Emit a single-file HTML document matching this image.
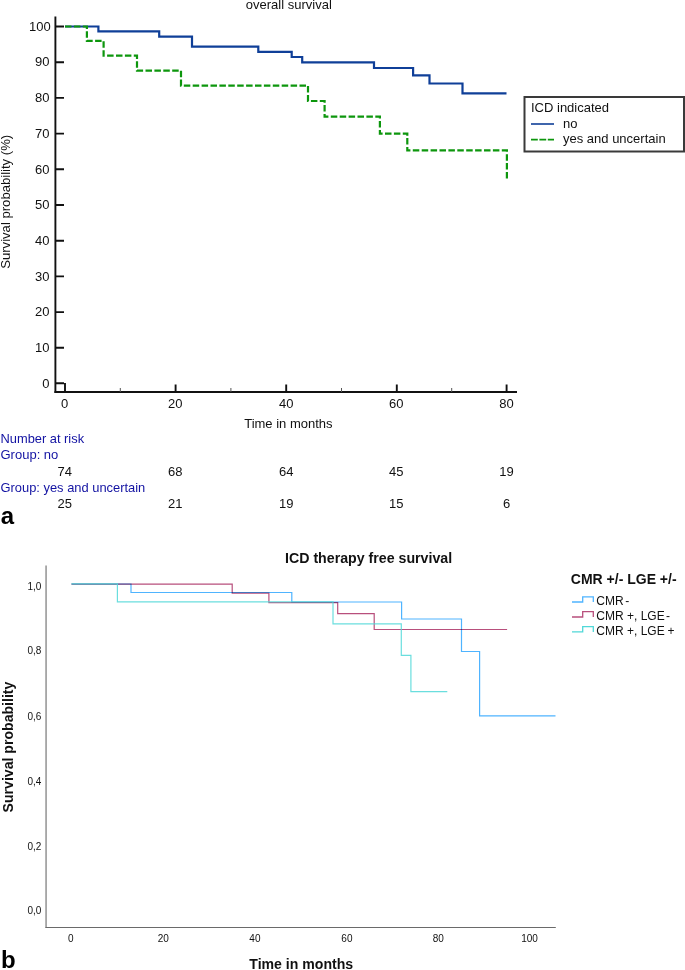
<!DOCTYPE html>
<html><head><meta charset="utf-8"><title>Kaplan-Meier survival curves</title>
<style>
html,body{margin:0;padding:0;background:#fff;}
body{width:685px;height:970px;overflow:hidden;}
svg{display:block;}
text{font-family:"Liberation Sans",Arial,sans-serif;fill:#111;}
.t13{font-size:13px;}
.t12{font-size:12px;}
.t10{font-size:10px;fill:#222;}
.b14{font-size:14.1px;font-weight:bold;fill:#111;}
.blue{fill:#1212a2;}
.pl{font-size:24px;font-weight:bold;fill:#000;}
</style></head>
<body>
<svg width="685" height="970" viewBox="0 0 685 970">
<rect width="685" height="970" fill="#fff"/>

<!-- ===== Panel A ===== -->
<text class="t13" x="245.8" y="8.5">overall survival</text>

<!-- axes -->
<g stroke="#111" stroke-width="1.9" fill="none">
<path d="M55.4,16.5 V393"/>
<path d="M54.5,392 H517"/>
<path d="M56,26.5 H64 M56,62.2 H64 M56,97.9 H64 M56,133.6 H64 M56,169.3 H64 M56,205 H64 M56,240.7 H64 M56,276.4 H64 M56,312.1 H64 M56,347.8 H64 M56,383.3 H64"/>
<path d="M65,383 V392 M175.6,384.5 V392 M286.2,384.5 V392 M396.8,384.5 V392 M506.6,384.5 V392"/>
</g>
<g stroke="#555" stroke-width="1" fill="none">
<path d="M120.3,388 V392 M230.9,388 V392 M341.5,388 V392 M451.7,388 V392"/>
</g>

<!-- y tick labels -->
<g class="t13" text-anchor="end">
<text x="50.8" y="30.7">100</text>
<text x="49.5" y="66.4">90</text>
<text x="49.5" y="102.1">80</text>
<text x="49.5" y="137.8">70</text>
<text x="49.5" y="173.5">60</text>
<text x="49.5" y="209.2">50</text>
<text x="49.5" y="244.9">40</text>
<text x="49.5" y="280.6">30</text>
<text x="49.5" y="316.3">20</text>
<text x="49.5" y="352.0">10</text>
<text x="49.5" y="387.5">0</text>
</g>
<!-- x tick labels -->
<g class="t13" text-anchor="middle">
<text x="64.5" y="408.2">0</text>
<text x="175.3" y="408.2">20</text>
<text x="286.2" y="408.2">40</text>
<text x="396.3" y="408.2">60</text>
<text x="506.5" y="408.2">80</text>
</g>
<text class="t13" x="244.2" y="428.4">Time in months</text>
<text class="t13" transform="translate(9.6,268.8) rotate(-90)" textLength="134" lengthAdjust="spacingAndGlyphs">Survival probability (%)</text>

<!-- curves -->
<path d="M65,26.5 H98.4 V31.3 H159.2 V36.7 H192 V46.7 H258.3 V51.9 H291.7 V57 H302.2 V62.4 H374 V68 H413.1 V75.3 H429.5 V83.5 H462.5 V93.4 H506.5" fill="none" stroke="#0f3f98" stroke-width="2.2"/>
<path d="M65,26.5 H86.9 V40.9 H103.6 V55.6 H137 V70.6 H181 V85.7 H308 V101 H324.6 V116.7 H379.9 V133.7 H407.3 V150.4 H506.9 V178.7" fill="none" stroke="#0d960d" stroke-width="2.2" stroke-dasharray="6.5 2.4"/>

<!-- legend A -->
<rect x="524.5" y="97" width="159.5" height="54.5" fill="#fff" stroke="#3a3a3a" stroke-width="2"/>
<text class="t13" x="531" y="112.4">ICD indicated</text>
<path d="M531,124 H554" stroke="#0f3f98" stroke-width="1.6"/>
<text class="t13" x="563" y="127.8">no</text>
<path d="M531,139.6 H554" stroke="#0d960d" stroke-width="1.6" stroke-dasharray="6.8 1.6"/>
<text class="t13" x="563" y="143.4">yes and uncertain</text>

<!-- risk table -->
<text class="t13 blue" x="0.5" y="443.3" textLength="83.6" lengthAdjust="spacingAndGlyphs">Number at risk</text>
<text class="t13 blue" x="0.5" y="459.3">Group: no</text>
<g class="t13" text-anchor="middle">
<text x="64.8" y="475.9">74</text>
<text x="175.3" y="475.9">68</text>
<text x="286.2" y="475.9">64</text>
<text x="396.3" y="475.9">45</text>
<text x="506.5" y="475.9">19</text>
</g>
<text class="t13 blue" x="0.5" y="491.5" textLength="144.8" lengthAdjust="spacingAndGlyphs">Group: yes and uncertain</text>
<g class="t13" text-anchor="middle">
<text x="64.8" y="508.1">25</text>
<text x="175.3" y="508.1">21</text>
<text x="286.2" y="508.1">19</text>
<text x="396.3" y="508.1">15</text>
<text x="506.5" y="508.1">6</text>
</g>
<text class="pl" x="0.8" y="523.6">a</text>

<!-- ===== Panel B ===== -->
<text class="b14" x="285" y="563.2" style="font-size:14.2px">ICD therapy free survival</text>
<g stroke="#6a6a6a" stroke-width="1.1" fill="none">
<path d="M46.05,565.6 V928"/>
<path d="M45.5,927.5 H555.8"/>
</g>
<g class="t10" text-anchor="end">
<text x="41.3" y="589.9">1,0</text>
<text x="41.3" y="654">0,8</text>
<text x="41.3" y="719.5">0,6</text>
<text x="41.3" y="784.9">0,4</text>
<text x="41.3" y="850">0,2</text>
<text x="41.3" y="914.2">0,0</text>
</g>
<g class="t10" text-anchor="middle">
<text x="70.8" y="942">0</text>
<text x="163.3" y="942">20</text>
<text x="254.9" y="942">40</text>
<text x="346.9" y="942">60</text>
<text x="438.3" y="942">80</text>
<text x="529.6" y="942">100</text>
</g>
<text class="b14" x="249.3" y="968.5">Time in months</text>
<text class="pl" x="1" y="967.6">b</text>
<text class="b14" transform="translate(12.5,812.4) rotate(-90)">Survival probability</text>

<!-- curves B -->
<g fill="none" stroke-width="1.2" style="isolation:isolate">
<path d="M71.5,584.1 H232.2 V593.2 H268.9 V602.7 H337.7 V613.6 H374.2 V629.5 H507.1" stroke="#b84f7c"/>
<path d="M71.5,584 H131 V592.5 H291.8 V602 H401.6 V619 H461.5 V651.5 H479.6 V715.9 H555.5" stroke="#4fb4ff" style="mix-blend-mode:multiply"/>
<path d="M71.5,583.9 H117.4 V601.9 H333 V623.8 H401.3 V655.3 H410.9 V691.6 H447.3" stroke="#50d8d8" stroke-opacity="0.85"/>
</g>

<!-- legend B -->
<text class="b14" x="570.8" y="583.8" style="font-size:14px">CMR +/- LGE +/-</text>
<g fill="none" stroke-width="1.3">
<path d="M572,602 H582.7 V596.8 H593.3 V602" stroke="#4fb4ff"/>
<path d="M572,617 H582.7 V611.7 H593.3 V617" stroke="#b84f7c"/>
<path d="M572,631.9 H582.7 V626.6 H593.3 V631.9" stroke="#50d8d8"/>
</g>
<text class="t12" x="596.3" y="605.1">CMR <tspan dx="-1.8">-</tspan></text>
<text class="t12" x="596.3" y="620.2">CMR +, LGE <tspan dx="-2.1">-</tspan></text>
<text class="t12" x="596.3" y="634.6">CMR +, LGE <tspan dx="-0.5">+</tspan></text>
</svg>
</body></html>
